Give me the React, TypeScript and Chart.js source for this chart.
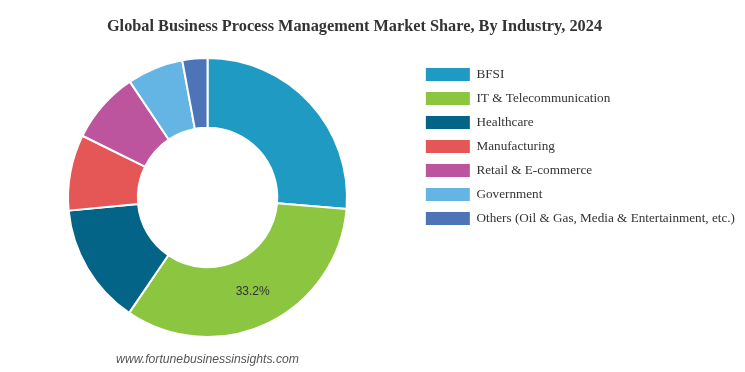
import { useEffect, useRef } from "react";
import { Chart, registerables } from "chart.js";

Chart.register(...registerables);

const titleText = "Global Business Process Management Market Share, By Industry, 2024";
const sourceText = "www.fortunebusinessinsights.com";
const categories = [
  "BFSI",
  "IT & Telecommunication",
  "Healthcare",
  "Manufacturing",
  "Retail & E-commerce",
  "Government",
  "Others (Oil & Gas, Media & Entertainment, etc.)",
];
const shares = [26.3, 33.2, 14.0, 8.8, 8.3, 6.5, 2.9];
const colors = ["#1e9ac3", "#8cc540", "#046488", "#e45756", "#bc559e", "#64b5e4", "#4e74b8"];
const labeledCategories = ["IT & Telecommunication"];

const annotationPlugin = {
  id: "annotationPlugin",
  afterDatasetsDraw(chart: any) {
    const ctx = chart.ctx;
    const meta = chart.getDatasetMeta(0);
    ctx.save();
    ctx.textAlign = "center";
    ctx.textBaseline = "middle";
    ctx.font = "12px Arial, 'Liberation Sans', sans-serif";
    ctx.fillStyle = "#333333";
    meta.data.forEach((arc: any, i: number) => {
      if (!labeledCategories.includes(categories[i])) return;
      const p = arc.tooltipPosition(false);
      ctx.fillText(shares[i].toFixed(1) + "%", p.x, p.y);
    });
    ctx.font = "bold 16.3px 'Times New Roman', 'Liberation Serif', serif";
    ctx.fillStyle = "#333333";
    ctx.fillText(titleText, 354.5, 27);
    const ca = chart.chartArea;
    ctx.font = "italic 12.2px Arial, 'Liberation Sans', sans-serif";
    ctx.fillStyle = "#555555";
    ctx.fillText(sourceText, (ca.left + ca.right) / 2, 360);
    ctx.restore();
  },
};

export default function App() {
  const canvasRef = useRef<HTMLCanvasElement | null>(null);

  useEffect(() => {
    const canvas = canvasRef.current;
    if (!canvas) return;
    const chart = new Chart(canvas, {
      type: "doughnut",
      data: {
        labels: categories,
        datasets: [
          {
            data: shares,
            backgroundColor: colors,
            borderColor: "#ffffff",
            borderWidth: 2,
          },
        ],
      },
      options: {
        responsive: false,
        animation: false,
        cutout: "50%",
        layout: { padding: { top: 57, bottom: 34, left: 0, right: 0 } },
        plugins: {
          title: { display: false },
          tooltip: { enabled: false },
          legend: {
            position: "right",
            align: "start",
            labels: {
              boxWidth: 44,
              boxHeight: 13,
              padding: 10.8,
              color: "#333333",
              font: { family: "'Times New Roman', 'Liberation Serif', serif", size: 13.2 },
              generateLabels: (c: any) => {
                const base = (Chart as any).overrides.doughnut.plugins.legend.labels.generateLabels(c);
                return base.map((it: any) => ({ ...it, lineWidth: 0 }));
              },
            },
          },
        },
      },
      plugins: [annotationPlugin],
    });
    return () => chart.destroy();
  }, []);

  return (
    <div style={{ position: "absolute", left: 0, top: 0, width: 745, height: 372, background: "#ffffff" }}>
      <canvas ref={canvasRef} width={745} height={372} style={{ display: "block" }} />
    </div>
  );
}
